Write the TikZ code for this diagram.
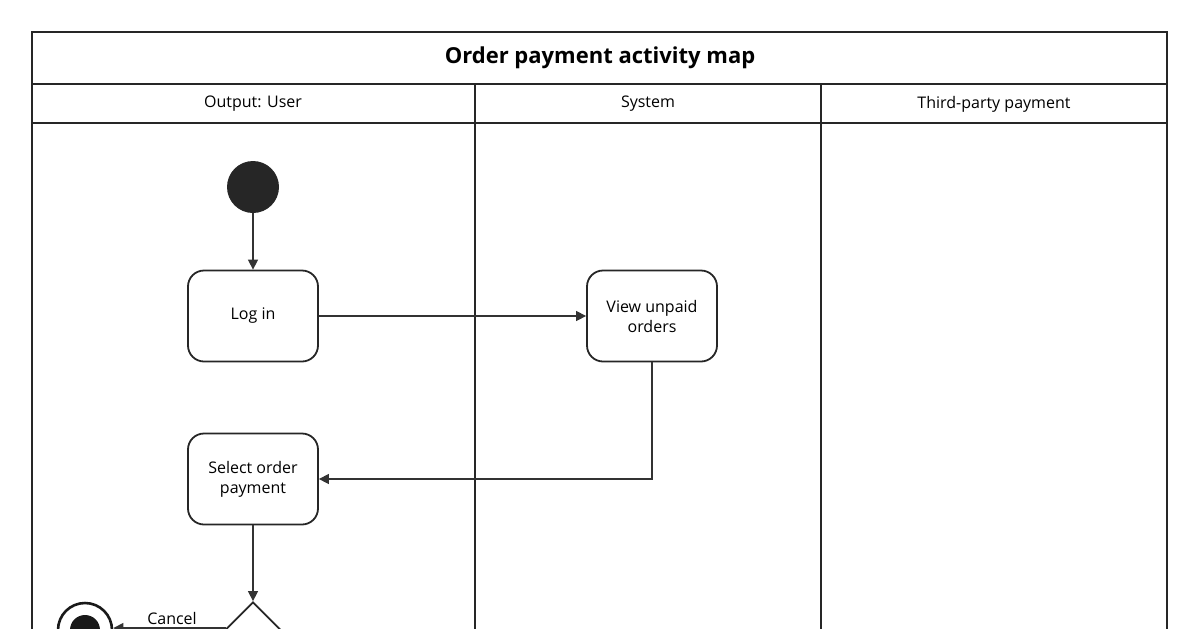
\documentclass[tikz,border=0pt]{standalone}
\usepackage{fontspec}
\setmainfont{Open Sans}
\usetikzlibrary{shapes.geometric,arrows.meta,calc}
\begin{document}
\begin{tikzpicture}[x=0.5pt,y=-0.5pt,
  lane/.style={draw=black!85,line width=1pt},
  act/.style={draw=black!85,line width=0.9pt,rounded corners=8pt,minimum width=65pt,minimum height=45.5pt,align=center,font=\fontsize{8}{10}\selectfont},
  flow/.style={draw=black!80,line width=0.7pt,-{Triangle[length=5pt,width=5pt]}},
  lbl/.style={font=\fontsize{8}{10}\selectfont}]
\useasboundingbox (0,0) rectangle (1200,628);
\clip (0,0) rectangle (1200,628);
\draw[lane] (32,700) -- (32,32) -- (1167,32) -- (1167,700);
\draw[lane] (32,84) -- (1167,84);
\draw[lane] (32,123) -- (1167,123);
\draw[lane] (475,84) -- (475,700);
\draw[lane] (821,84) -- (821,700);
\node[font=\bfseries\fontsize{11}{13}\selectfont] (title) at (600,58) {Order payment activity map};
\node[lbl] (h1) at (253,104) {Output: User};
\node[lbl] (h2) at (648,104) {System};
\node[lbl] (h3) at (994,104) {Third-party payment};
\node[circle,fill=black!85,minimum size=26pt,inner sep=0] (start) at (253,187) {};
\node[act] (login) at (253,316) {Log in};
\node[act] (view) at (652,316) {View unpaid\\orders};
\node[act] (sel) at (253,479) {Select order\\payment};
\node[diamond,draw=black!85,line width=0.9pt,minimum width=53pt,minimum height=53pt,inner sep=0] (dec) at (253,655) {};
\node[circle,draw=black!90,line width=1.3pt,minimum size=27pt,inner sep=0] (final) at (85,630) {};
\node[circle,fill=black!90,minimum size=15pt,inner sep=0] (finalin) at (85,630) {};
\coordinate (cx) at ($(dec.north)!0.5!(dec.west)$);
\draw[flow] (start) -- (login);
\draw[flow] (login) -- (view);
\draw[flow] (view.south) |- (sel.east);
\draw[flow] (sel) -- (dec.north);
\draw[flow] (cx) -- (final.east |- cx);
\node[lbl] (cancel) at (172,618) {Cancel};
\end{tikzpicture}
\end{document}
